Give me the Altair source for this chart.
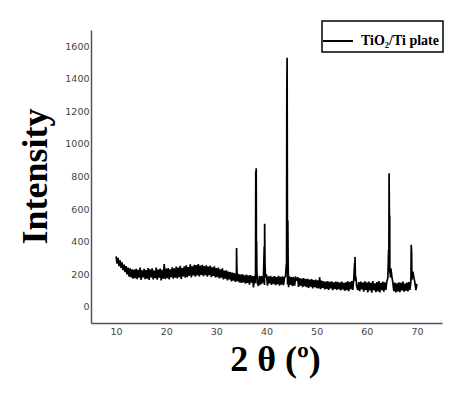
import altair as alt
import pandas as pd

# Baseline scan: 2θ from 10.0 to 70.0 in steps of 0.2
base_start = 10.0
base_step = 0.2
base_y = [
    310, 265, 300, 250, 285, 238, 272, 225, 258, 212,
    250, 198, 240, 185, 236, 180, 230, 172, 228, 176,
    232, 170, 226, 178, 240, 165, 224, 180, 232, 170,
    225, 172, 238, 164, 230, 180, 236, 168, 222, 175,
    240, 166, 228, 178, 234, 162, 226, 172, 262, 170,
    234, 176, 238, 168, 230, 182, 242, 172, 236, 178,
    246, 174, 240, 182, 252, 170, 238, 186, 248, 178,
    254, 182, 244, 190, 260, 180, 248, 192, 258, 184,
    256, 192, 262, 186, 252, 196, 258, 188, 250, 194,
    254, 184, 246, 194, 252, 182, 242, 190, 248, 180,
    238, 182, 240, 174, 230, 178, 236, 168, 222, 172,
    224, 162, 216, 168, 212, 156, 210, 160, 206, 152,
    206, 156, 202, 150, 198, 146, 200, 150, 192, 142,
    198, 146, 192, 136, 194, 148, 188, 118, 190, 144,
    196, 144, 128, 190, 136, 188, 144, 192, 134, 186,
    192, 130, 186, 144, 190, 134, 184, 140, 188, 132,
    182, 138, 190, 130, 184, 136, 186, 132, 180, 186,
    210, 136, 120, 186, 134, 182, 126, 184, 130, 176,
    166, 182, 122, 176, 130, 172, 120, 176, 126, 170,
    120, 172, 116, 166, 124, 170, 112, 164, 120, 166,
    114, 162, 112, 180, 108, 160, 116, 156, 106, 154,
    110, 158, 104, 152, 112, 156, 102, 150, 110, 154,
    104, 152, 108, 148, 100, 154, 106, 146, 98, 150,
    102, 156, 96, 152, 108, 158, 104, 166, 196, 186,
    124, 102, 152, 96, 154, 106, 148, 92, 156, 104,
    150, 88, 154, 100, 146, 86, 158, 102, 144, 90,
    152, 94, 158, 88, 146, 102, 154, 92, 150, 104,
    156, 176, 216, 206, 236, 186, 146, 96, 148, 88,
    144, 94, 150, 90, 146, 100, 154, 92, 142, 98,
    148, 94, 152, 104, 156, 166, 216, 176, 150, 102,
    140,
]

# Diffraction peaks (2θ, intensity)
peak_x = [34.03, 34.09,
          37.82, 37.86, 37.91, 37.95, 38.03, 38.07,
          39.55, 39.63, 39.71,
          43.95, 44.05, 44.11, 44.17, 44.25, 44.31, 44.35,
          57.58, 57.66, 57.74,
          64.35, 64.45, 64.51, 64.57, 64.63, 64.73,
          68.87, 68.94, 69.02]
peak_y = [360, 240,
          240, 830, 760, 850, 400, 230,
          370, 510, 250,
          260, 1290, 1530, 520, 530, 300, 200,
          270, 305, 160,
          350, 820, 550, 560, 230, 180,
          380, 330, 180]

series_name = "TiO\u2082/Ti plate"

base_x = [round(base_start + i * base_step, 2) for i in range(len(base_y))]
df = pd.DataFrame({"x": base_x + peak_x, "y": base_y + peak_y})
df = df.sort_values("x").reset_index(drop=True)
df["series"] = series_name

x_ticks = [10, 20, 30, 40, 50, 60, 70]
y_ticks = [0, 200, 400, 600, 800, 1000, 1200, 1400, 1600]

chart = alt.Chart(df).mark_line(strokeWidth=1.7, interpolate="linear").encode(
    x=alt.X("x:Q",
            scale=alt.Scale(domain=[5, 75], nice=False, zero=False),
            axis=alt.Axis(title="2 θ (º)", values=x_ticks, ticks=False, grid=False,
                          labelPadding=3, labelFontSize=9.5, labelFont="DejaVu Sans",
                          labelColor="#444444", domainColor="#555555", domainWidth=1.5,
                          titleFont="Liberation Serif", titleFontWeight="bold",
                          titleFontSize=36, titleColor="black",
                          titleX=184, titleY=36, titleBaseline="middle")),
    y=alt.Y("y:Q",
            scale=alt.Scale(domain=[-100, 1700], nice=False, zero=False),
            axis=alt.Axis(title="Intensity", values=y_ticks, ticks=False, grid=False,
                          format="d",
                          labelPadding=2, labelFontSize=9.5, labelFont="DejaVu Sans",
                          labelColor="#444444", domainColor="#555555", domainWidth=1.5,
                          titleFont="Liberation Serif", titleFontWeight="bold",
                          titleFontSize=36, titleColor="black",
                          titleX=-56, titleY=146, titleAngle=270,
                          titleAlign="center", titleBaseline="middle")),
    color=alt.Color("series:N",
                    scale=alt.Scale(range=["black"]),
                    legend=alt.Legend(title=None, orient="none", legendX=231, legendY=-9,
                                      strokeColor="black", padding=4,
                                      symbolType="stroke",
                                      symbolSize=900, symbolStrokeWidth=2, symbolOffset=-4,
                                      labelOffset=7,
                                      labelExpr="datum.label + '\u00a0\u00a0\u00a0\u00a0\u00a0\u00a0'",
                                      labelFont="Liberation Serif", labelFontWeight="bold",
                                      labelFontSize=14, labelColor="black",
                                      labelLimit=300)),
).properties(
    width=351, height=293,
    autosize=alt.AutoSizeParams(type="none"),
    padding={"left": 91, "top": 30, "right": 32, "bottom": 77},
    background="white",
).configure_view(stroke=None).configure_legend(strokeWidth=1.5)

chart.save("out.html", embed_options={"renderer": "svg", "actions": False})
